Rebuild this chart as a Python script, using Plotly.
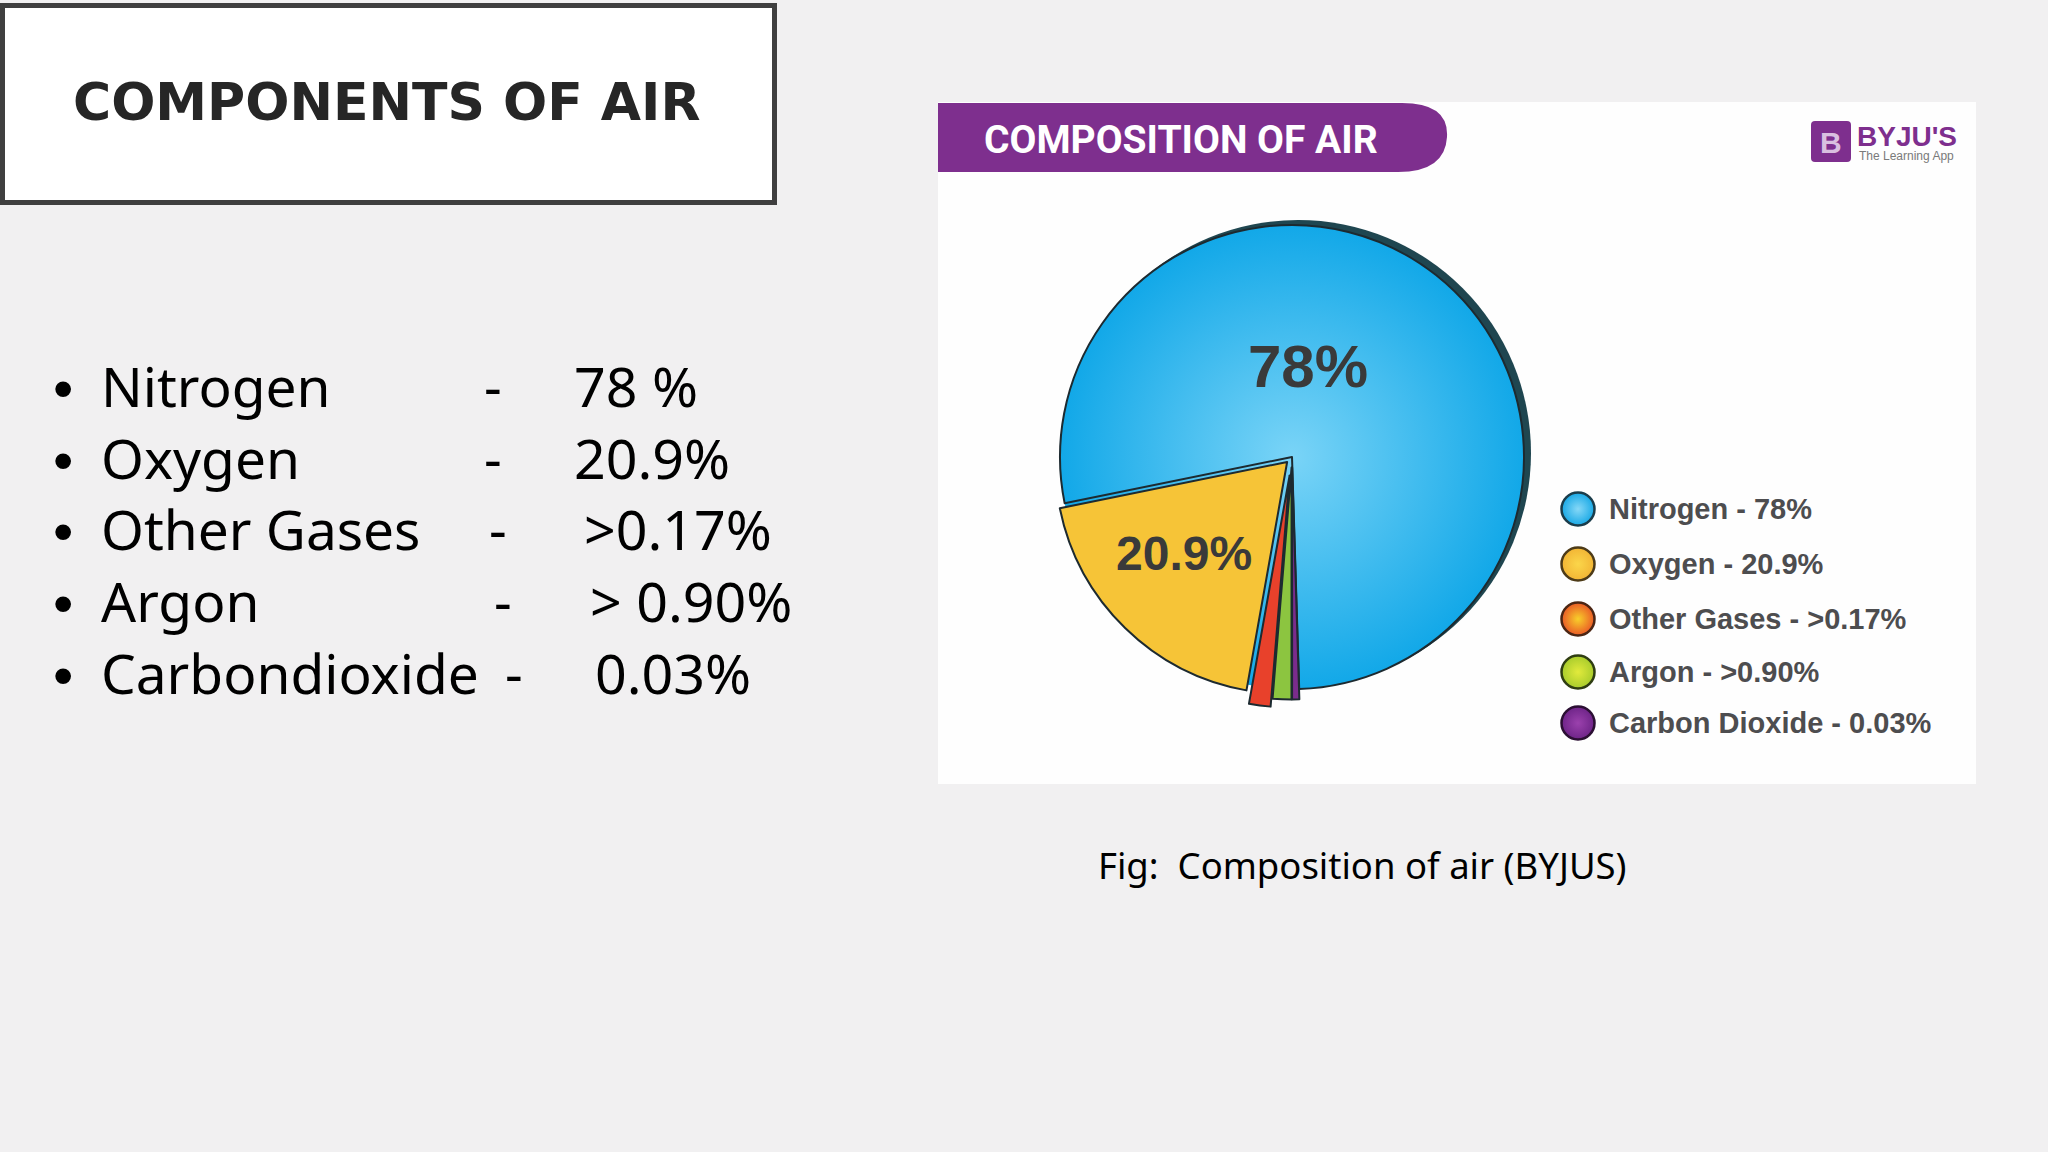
import plotly.graph_objects as go

W, H = 2048, 1152

# ---------------- data ----------------
gases = ["Nitrogen", "Oxygen", "Other Gases", "Argon", "Carbon Dioxide"]
legend_values = ["78%", "20.9%", ">0.17%", ">0.90%", "0.03%"]
# wedge sizes as they are drawn in the picture (small slices exaggerated there)
slice_share = [77.7, 19.0, 1.5, 1.3, 0.5]
big_wedge_labels = ["78%", "20.9%"]
bullet_names = ["Nitrogen", "Oxygen", "Other Gases", "Argon", "Carbondioxide"]
bullet_values = ["78 %", "20.9%", ">0.17%", "> 0.90%", "0.03%"]
slide_title = "COMPONENTS OF AIR"
chart_title = "COMPOSITION OF AIR"
caption = "Fig:  Composition of air (BYJUS)"

# ---------------- styles / layout ----------------
BG = "#f1f0f1"
slice_colors = ["rgba(0,0,0,0)", "#f6c437", "#e8412b", "#8cc540", "#7a2c8c"]
slice_pull = [0, 0.03, 0.08, 0.045, 0.045]
legend_edge = ["#19a9e6", "#f2b535", "#ea5a26", "#a8cc2c", "#6e2488"]
legend_center = ["#86d8f7", "#fbd64a", "#f8cf2a", "#e2ea3c", "#9b41ad"]
legend_line = ["#1b3d4b", "#4d3b18", "#4c2614", "#2f3d12", "#2b0f33"]

cx, cy, r = 1292, 457, 232
half = r * (1 + max(slice_pull))
dom_x = [(cx - half) / W, (cx + half) / W]
dom_y = [1 - (cy + half) / H, 1 - (cy - half) / H]

legend_x, legend_text_x = 1578, 1607
legend_y = [509, 564, 619, 672, 723]

row_y = [385, 457, 528, 600, 672]
dash_x = [493, 493, 498, 503, 514]
value_x = [572, 572, 582, 588, 593]

fig = go.Figure()

# radial-gradient disc that shows through the nitrogen wedge
fig.add_trace(go.Scatter(
    x=[cx], y=[cy], mode="markers",
    marker=dict(size=2 * r, color="#12a8e8",
                gradient=dict(type="radial", color="#7ad4f7"),
                line=dict(width=0)),
    hoverinfo="skip", showlegend=False))

# legend dots
fig.add_trace(go.Scatter(
    x=[legend_x] * len(gases), y=legend_y, mode="markers",
    marker=dict(size=33, color=legend_edge,
                gradient=dict(type="radial", color=legend_center),
                line=dict(color=legend_line, width=2.5)),
    hoverinfo="skip", showlegend=False))

fig.add_trace(go.Pie(
    labels=gases, values=slice_share, sort=False,
    direction="counterclockwise", rotation=258.5, pull=slice_pull,
    marker=dict(colors=slice_colors, line=dict(color="#1d2a30", width=2)),
    textinfo="none", hoverinfo="label", showlegend=False,
    domain=dict(x=dom_x, y=dom_y)))

shapes = [
    # white chart panel
    dict(type="rect", xref="x", yref="y", x0=938, y0=102, x1=1976, y1=784,
         fillcolor="#fefefe", line=dict(width=0), layer="below"),
    # dark rim shadow of the pie
    dict(type="circle", xref="x", yref="y", x0=cx + 6 - r - 1, x1=cx + 6 + r + 1,
         y0=cy - 4 - r - 1, y1=cy - 4 + r + 1,
         fillcolor="#1f4650", line=dict(width=0), layer="below"),
    # purple banner
    dict(type="path", xref="x", yref="y",
         path="M 938 103 L 1402 103 Q 1449 103 1447 137 Q 1445 172 1398 172 L 938 172 Z",
         fillcolor="#7e2f8e", line=dict(width=0), layer="below"),
    # logo square
    dict(type="path", xref="x", yref="y",
         path="M 1815 121 L 1847 121 Q 1851 121 1851 125 L 1851 158 Q 1851 162 1847 162 "
              "L 1815 162 Q 1811 162 1811 158 L 1811 125 Q 1811 121 1815 121 Z",
         fillcolor="#7e2f8e", line=dict(width=0), layer="below"),
    # title box
    dict(type="rect", xref="x", yref="y", x0=2.5, y0=5.5, x1=774.5, y1=202.5,
         fillcolor="white", line=dict(color="#3f3f3f", width=5), layer="below"),
]

ann = []


def add_text(x, y, text, size, family, color, xanchor="left", bold=False):
    ann.append(dict(x=x, y=y, xref="x", yref="y", text=text, showarrow=False,
                    xanchor=xanchor, yanchor="middle",
                    font=dict(size=size, family=family, color=color,
                              weight="bold" if bold else "normal")))


add_text(386, 102, slide_title, 52, "DejaVu Sans", "#262626", "center", True)

for i in range(len(bullet_names)):
    add_text(63, row_y[i] + 2, "•", 58, "Liberation Sans", "#000000", "center")
    add_text(99, row_y[i], bullet_names[i], 55, "Noto Sans", "#000000")
    add_text(dash_x[i], row_y[i], "-", 55, "Noto Sans", "#000000", "center")
    add_text(value_x[i], row_y[i], bullet_values[i], 55.5, "Noto Sans", "#000000")

add_text(982, 140, chart_title, 39, "Roboto", "#ffffff", "left", True)
add_text(1831, 142, "B", 30, "Liberation Sans", "#d9bfe0", "center", True)
add_text(1855, 136, "BYJU'S", 28, "Liberation Sans", "#7e2f8e", "left", True)
add_text(1857, 156, "The Learning App", 12, "Liberation Sans", "#7a7a7a", "left")

add_text(1308, 366, big_wedge_labels[0], 60, "Liberation Sans", "#3a3a3a", "center", True)
add_text(1184, 553, big_wedge_labels[1], 48, "Liberation Sans", "#3a3a3a", "center", True)

for i, g in enumerate(gases):
    add_text(legend_text_x, legend_y[i], f"{g} - {legend_values[i]}", 29,
             "Liberation Sans", "#4d4d4f", "left", True)

add_text(1096, 865, caption, 36.5, "Noto Sans", "#000000")

fig.update_layout(
    width=W, height=H, margin=dict(l=0, r=0, t=0, b=0),
    paper_bgcolor=BG, plot_bgcolor="rgba(0,0,0,0)",
    xaxis=dict(range=[0, W], visible=False, fixedrange=True, domain=[0, 1]),
    yaxis=dict(range=[H, 0], visible=False, fixedrange=True, domain=[0, 1]),
    shapes=shapes, annotations=ann, showlegend=False)

fig.write_html("out.html")
